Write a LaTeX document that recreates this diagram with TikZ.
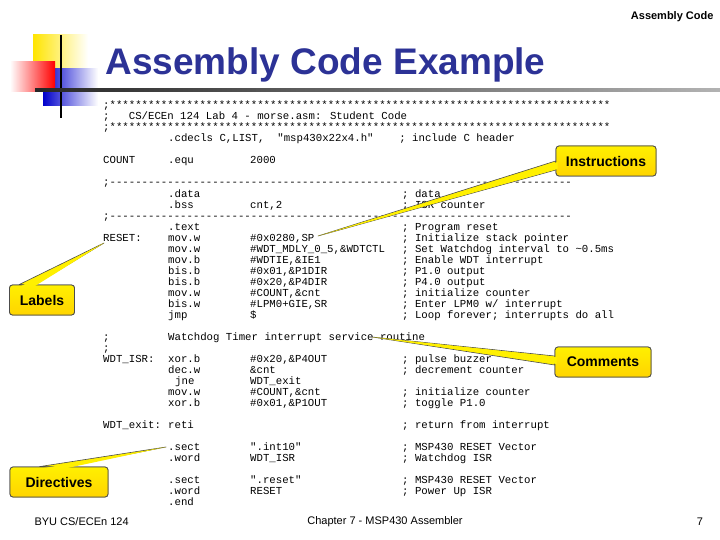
\documentclass[tikz,border=0pt]{standalone}
\usepackage{fontspec}
\setmainfont{Liberation Sans}
\newfontfamily\codefont{Liberation Mono}
\usetikzlibrary{positioning,calc}
\definecolor{titleblue}{RGB}{44,50,150}
\definecolor{callyellow}{RGB}{255,240,0}
\tikzset{
  code/.style={anchor=base west,inner sep=0pt,font=\codefont\fontsize{10.7}{11}\selectfont},
  callout/.style={rounded corners=3pt,draw=black!70,line width=0.8pt,top color=callyellow,bottom color=callyellow!75!orange,
    minimum height=30pt,inner xsep=8pt,font=\bfseries\fontsize{14}{16}\selectfont},
  wedge/.style={fill=callyellow,draw=black!70,line width=0.6pt,line join=round}
}
\begin{document}
\begin{tikzpicture}[x=1pt,y=-1pt]
	\useasboundingbox (0,0) rectangle (720,540);

	% logo
	\shade[left color=callyellow!90!orange,right color=white] (33,35) rectangle (88,86);
	\shade[left color=blue!80!black,right color=white] (43,69) rectangle (98,106);
	\shade[left color=white,right color=red] (10,62) rectangle (55,92);
	\draw[line width=2pt] (61,35) -- (61,118);
	\shade[left color=black!85,right color=black!30] (35,89) rectangle (720,92);

	% titles
	\node[anchor=east,font=\bfseries\fontsize{11}{13}\selectfont] (hdr) at (717,17) {Assembly Code};
	\node[anchor=west,text=titleblue,font=\bfseries\fontsize{37}{40}\selectfont] (title) at (102,65) {Assembly Code Example};

	% listing
	\node[code] at (103,109) {;******************************************************************************};
	\node[code] at (103,120) {;\ \ \ CS/ECEn 124 Lab 4 - morse.asm: Student Code};
	\node[code] at (103,131) {;******************************************************************************};
	\node[code] at (168,142) {.cdecls C,LIST,\ \ "msp430x22x4.h"\ \ \ \ ; include C header};
	\node[code] at (103,164) {COUNT};
	\node[code] at (168,164) {.equ};
	\node[code] at (250,164) {2000};
	\node[code] at (103,186) {;------------------------------------------------------------------------};
	\node[code] at (168,197) {.data};
	\node[code] at (402,197) {; data};
	\node[code] at (168,208) {.bss};
	\node[code] at (250,208) {cnt,2};
	\node[code] at (402,208) {; ISR counter};
	\node[code] at (103,219) {;------------------------------------------------------------------------};
	\node[code] at (168,230) {.text};
	\node[code] at (402,230) {; Program reset};
	\node[code] (reset) at (103,241) {RESET:};
	\node[code] at (168,241) {mov.w};
	\node[code] (sp) at (250,241) {\#0x0280,SP};
	\node[code] at (402,241) {; Initialize stack pointer};
	\node[code] at (168,252) {mov.w};
	\node[code] at (250,252) {\#WDT\_MDLY\_0\_5,\&WDTCTL};
	\node[code] at (402,252) {; Set Watchdog interval to \textasciitilde0.5ms};
	\node[code] at (168,263) {mov.b};
	\node[code] at (250,263) {\#WDTIE,\&IE1};
	\node[code] at (402,263) {; Enable WDT interrupt};
	\node[code] at (168,274) {bis.b};
	\node[code] at (250,274) {\#0x01,\&P1DIR};
	\node[code] at (402,274) {; P1.0 output};
	\node[code] at (168,285) {bis.b};
	\node[code] at (250,285) {\#0x20,\&P4DIR};
	\node[code] at (402,285) {; P4.0 output};
	\node[code] at (168,296) {mov.w};
	\node[code] at (250,296) {\#COUNT,\&cnt};
	\node[code] at (402,296) {; initialize counter};
	\node[code] at (168,307) {bis.w};
	\node[code] at (250,307) {\#LPM0+GIE,SR};
	\node[code] at (402,307) {; Enter LPM0 w/ interrupt};
	\node[code] at (168,318) {jmp};
	\node[code] at (250,318) {\$};
	\node[code] at (402,318) {; Loop forever; interrupts do all};
	\node[code] at (103,340) {;};
	\node[code] (wdog) at (168,340) {Watchdog Timer interrupt service routine};
	\node[code] at (103,351) {;};
	\node[code] at (103,362) {WDT\_ISR:};
	\node[code] at (168,362) {xor.b};
	\node[code] at (250,362) {\#0x20,\&P4OUT};
	\node[code] at (402,362) {; pulse buzzer};
	\node[code] at (168,373) {dec.w};
	\node[code] at (250,373) {\&cnt};
	\node[code] at (402,373) {; decrement counter};
	\node[code] at (175,384) {jne};
	\node[code] at (250,384) {WDT\_exit};
	\node[code] at (168,395) {mov.w};
	\node[code] at (250,395) {\#COUNT,\&cnt};
	\node[code] at (402,395) {; initialize counter};
	\node[code] at (168,406) {xor.b};
	\node[code] at (250,406) {\#0x01,\&P1OUT};
	\node[code] at (402,406) {; toggle P1.0};
	\node[code] at (103,428) {WDT\_exit:};
	\node[code] at (168,428) {reti};
	\node[code] at (402,428) {; return from interrupt};
	\node[code] (sect) at (168,450) {.sect};
	\node[code] at (250,450) {".int10"};
	\node[code] at (402,450) {; MSP430 RESET Vector};
	\node[code] at (168,461) {.word};
	\node[code] at (250,461) {WDT\_ISR};
	\node[code] at (402,461) {; Watchdog ISR};
	\node[code] at (168,483) {.sect};
	\node[code] at (250,483) {".reset"};
	\node[code] at (402,483) {; MSP430 RESET Vector};
	\node[code] at (168,494) {.word};
	\node[code] at (250,494) {RESET};
	\node[code] at (402,494) {; Power Up ISR};
	\node[code] at (168,505) {.end};

	% callouts
	\coordinate (tipI) at (318,236);
	\coordinate (tipL) at (104,243);
	\coordinate (tipC) at (372,337);
	\coordinate (tipD) at (166,447);
	\node[callout,minimum width=100pt] (instr) at (606,161) {Instructions};
	\node[callout,minimum width=65pt] (labels) at (42,300) {Labels};
	\node[callout,minimum width=96pt] (comm) at (603,362) {Comments};
	\node[callout,minimum width=98pt] (dir) at (59,482) {Directives};
	\filldraw[wedge] (tipI) -- ($(instr.west)+(0,0)$) -- ($(instr.west)+(0,9)$) -- cycle;
	\filldraw[wedge] (tipL) -- ($(labels.north west)+(10,0)$) -- ($(labels.north west)+(26,0)$) -- cycle;
	\filldraw[wedge] (tipC) -- ($(comm.west)+(0,-6)$) -- ($(comm.west)+(0,3)$) -- cycle;
	\filldraw[wedge] (tipD) -- ($(dir.north west)+(30,0)$) -- ($(dir.north west)+(56,0)$) -- cycle;
	\node[callout,minimum width=100pt] at (instr) {Instructions};
	\node[callout,minimum width=65pt] at (labels) {Labels};
	\node[callout,minimum width=96pt] at (comm) {Comments};
	\node[callout,minimum width=98pt] at (dir) {Directives};
	\fill[callyellow] (tipI) -- ($(instr.west)+(2,1)$) -- ($(instr.west)+(2,8)$) -- cycle;
	\fill[callyellow] (tipL) -- ($(labels.north west)+(11,2)$) -- ($(labels.north west)+(25,2)$) -- cycle;
	\fill[callyellow] (tipC) -- ($(comm.west)+(2,-5)$) -- ($(comm.west)+(2,2)$) -- cycle;
	\fill[callyellow] (tipD) -- ($(dir.north west)+(31,2)$) -- ($(dir.north west)+(55,2)$) -- cycle;

	% footer
	\node[anchor=west,font=\fontsize{11}{13}\selectfont] (foot1) at (31,522) {BYU CS/ECEn 124};
	\node[font=\fontsize{11}{13}\selectfont] (foot2) at (385,522) {Chapter 7 - MSP430 Assembler};
	\node[font=\fontsize{11}{13}\selectfont] (foot3) at (700,522) {7};
\end{tikzpicture}
\end{document}
